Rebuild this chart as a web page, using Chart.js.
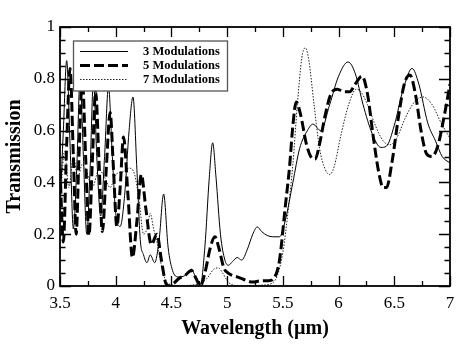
<!DOCTYPE html>
<html>
<head>
<meta charset="utf-8">
<script src="https://cdn.jsdelivr.net/npm/chart.js@4/dist/chart.umd.min.js"></script>
<style>
html,body{margin:0;padding:0;background:#fff;}
#wrap{width:474px;height:355px;}
</style>
</head>
<body>
<div id="wrap"><canvas id="c" width="474" height="355"></canvas></div>
<script>
// ---- Data ----
const seriesLabels = ["3 Modulations", "5 Modulations", "7 Modulations"];

const wl3 = [3.50,3.53,3.56,3.59,3.62,3.65,3.68,3.71,3.74,3.77,3.80,3.83,3.865,3.90,3.935,3.97,4.00,4.04,4.08,4.12,4.155,4.19,4.22,4.25,4.28,4.31,4.35,4.39,4.43,4.47,4.51,4.56,4.62,4.68,4.72,4.76,4.80,4.84,4.87,4.90,4.94,4.98,5.01,5.05,5.09,5.13,5.18,5.23,5.27,5.31,5.36,5.41,5.47,5.52,5.59,5.65,5.72,5.77,5.84,5.92,6.00,6.085,6.15,6.22,6.30,6.38,6.43,6.50,6.58,6.66,6.72,6.80,6.87,6.93,7.00];
const t3  = [0.30,0.60,0.87,0.55,0.22,0.45,0.80,0.50,0.20,0.45,0.79,0.50,0.27,0.50,0.77,0.50,0.28,0.23,0.35,0.60,0.73,0.45,0.18,0.12,0.09,0.12,0.09,0.18,0.355,0.15,0.06,0.035,0.04,0.065,0.03,0.005,0.15,0.42,0.553,0.42,0.20,0.10,0.08,0.095,0.11,0.10,0.14,0.20,0.228,0.21,0.195,0.19,0.19,0.25,0.40,0.53,0.60,0.625,0.60,0.70,0.81,0.865,0.82,0.70,0.59,0.535,0.54,0.62,0.76,0.84,0.78,0.63,0.56,0.50,0.475];

const wl5 = [3.50,3.53,3.56,3.59,3.62,3.645,3.67,3.70,3.73,3.76,3.79,3.82,3.85,3.88,3.915,3.95,3.98,4.01,4.04,4.07,4.11,4.15,4.19,4.23,4.27,4.32,4.37,4.41,4.45,4.48,4.52,4.57,4.62,4.68,4.72,4.76,4.80,4.85,4.89,4.93,4.97,5.01,5.05,5.09,5.15,5.23,5.30,5.37,5.42,5.47,5.52,5.56,5.59,5.62,5.66,5.71,5.75,5.79,5.83,5.88,5.93,5.99,6.05,6.10,6.15,6.21,6.26,6.31,6.36,6.40,6.43,6.48,6.54,6.59,6.64,6.69,6.74,6.79,6.84,6.89,6.95,7.00];
const t5  = [0.45,0.17,0.55,0.84,0.50,0.20,0.50,0.80,0.50,0.195,0.48,0.75,0.48,0.21,0.45,0.67,0.45,0.23,0.38,0.575,0.35,0.11,0.25,0.43,0.30,0.16,0.20,0.10,0.01,0.0,0.01,0.03,0.04,0.06,0.03,0.0,0.05,0.15,0.19,0.14,0.07,0.05,0.04,0.035,0.025,0.015,0.02,0.02,0.03,0.10,0.30,0.46,0.62,0.71,0.66,0.55,0.50,0.49,0.55,0.66,0.74,0.76,0.75,0.75,0.78,0.81,0.74,0.58,0.44,0.38,0.38,0.48,0.66,0.78,0.815,0.74,0.60,0.51,0.50,0.54,0.66,0.78];

const wl7 = [3.50,3.54,3.58,3.62,3.66,3.70,3.74,3.79,3.85,3.90,3.95,4.00,4.06,4.12,4.17,4.21,4.25,4.28,4.31,4.34,4.37,4.41,4.45,4.50,4.60,4.70,4.76,4.82,4.88,4.92,4.96,5.01,5.06,5.15,5.30,5.40,5.45,5.50,5.55,5.59,5.63,5.67,5.70,5.73,5.78,5.83,5.88,5.92,5.96,6.02,6.09,6.16,6.20,6.26,6.33,6.40,6.46,6.52,6.60,6.68,6.76,6.84,6.92,7.00];
const t7  = [0.30,0.52,0.38,0.50,0.42,0.47,0.44,0.38,0.45,0.42,0.38,0.43,0.44,0.455,0.43,0.33,0.20,0.22,0.28,0.22,0.17,0.08,0.02,0.005,0.0,0.005,0.01,0.03,0.065,0.07,0.05,0.015,0.003,0.0,0.003,0.01,0.04,0.13,0.30,0.47,0.70,0.88,0.92,0.88,0.70,0.53,0.45,0.43,0.46,0.58,0.70,0.76,0.75,0.70,0.62,0.56,0.545,0.57,0.65,0.71,0.73,0.70,0.63,0.57];

const xTickValues = [3.5,4,4.5,5,5.5,6,6.5,7];
const yTickValues = [0,0.2,0.4,0.6,0.8,1];

function pairs(xs, ys){ return xs.map((x,i)=>({x:x, y:ys[i]})); }

const SERIF = "'Liberation Serif','Times New Roman',serif";

// inward ticks on all four sides + frame
const frameTicks = {
  id:'frameTicks',
  afterDatasetsDraw(chart){
    const {ctx, chartArea:a, scales:{x,y}} = chart;
    ctx.save();
    ctx.strokeStyle = '#000';
    ctx.lineWidth = 1.3;
    ctx.beginPath();
    for (let v = 3.5; v <= 7.0001; v += 0.25){
      const major = Math.abs(v*2 - Math.round(v*2)) < 1e-6;
      const L = major ? 10 : 5;
      const px = Math.round(x.getPixelForValue(v)) + 0.5;
      ctx.moveTo(px, a.bottom); ctx.lineTo(px, a.bottom - L);
      ctx.moveTo(px, a.top); ctx.lineTo(px, a.top + L);
    }
    for (let i = 0; i <= 20; i++){
      const v = i*0.05;
      const major = i % 4 === 0;
      const L = major ? 11 : 5.5;
      const py = Math.round(y.getPixelForValue(v)) + 0.5;
      ctx.moveTo(a.left, py); ctx.lineTo(a.left + L, py);
      ctx.moveTo(a.right, py); ctx.lineTo(a.right - L, py);
    }
    ctx.stroke();
    ctx.lineWidth = 1.8;
    ctx.strokeRect(a.left, a.top, a.right - a.left, a.bottom - a.top);
    ctx.restore();
  }
};

// legend box inside the plot
const insetLegend = {
  id:'insetLegend',
  afterDatasetsDraw(chart){
    const ctx = chart.ctx;
    const bx = 73.5, by = 41, bw = 154, bh = 50;
    ctx.save();
    ctx.fillStyle = '#fff';
    ctx.fillRect(bx, by, bw, bh);
    ctx.strokeStyle = '#555';
    ctx.lineWidth = 1.3;
    ctx.strokeRect(bx, by, bw, bh);
    const rows = [51.5, 65.5, 79.5];
    chart.data.datasets.forEach((ds, i) => {
      ctx.save();
      ctx.strokeStyle = ds.borderColor;
      ctx.lineWidth = ds.borderWidth;
      ctx.setLineDash(ds.borderDash || []);
      ctx.beginPath();
      ctx.moveTo(80, rows[i]); ctx.lineTo(128, rows[i]);
      ctx.stroke();
      ctx.restore();
      ctx.fillStyle = '#000';
      ctx.font = "bold 12.5px " + SERIF;
      ctx.textAlign = 'left';
      ctx.textBaseline = 'middle';
      ctx.fillText(ds.label, 143, rows[i] + 0.5);
    });
    ctx.restore();
  }
};

const fmt = v => { const s = String(Math.round(v*10)/10); return s; };

new Chart(document.getElementById('c'), {
  type:'line',
  data:{
    datasets:[
      {label:seriesLabels[0], data:pairs(wl3,t3), borderColor:'#000', borderWidth:1, borderDash:[], pointRadius:0, fill:false, cubicInterpolationMode:'monotone'},
      {label:seriesLabels[1], data:pairs(wl5,t5), borderColor:'#000', borderWidth:3, borderDash:[10,4], pointRadius:0, fill:false, cubicInterpolationMode:'monotone'},
      {label:seriesLabels[2], data:pairs(wl7,t7), borderColor:'#222', borderWidth:1, borderDash:[1.5,1.5], pointRadius:0, fill:false, cubicInterpolationMode:'monotone'}
    ]
  },
  options:{
    responsive:false,
    devicePixelRatio:1,
    animation:false,
    layout:{padding:{top:27, right:24, left:0, bottom:0}},
    plugins:{legend:{display:false}, tooltip:{enabled:false}},
    scales:{
      x:{
        type:'linear', min:3.5, max:7,
        afterBuildTicks(s){ s.ticks = xTickValues.map(v=>({value:v})); },
        afterFit(s){ s.height = 69; },
        grid:{display:false, drawTicks:false},
        border:{display:false},
        ticks:{padding:7, color:'#000', font:{family:SERIF, size:17}, callback:v=>fmt(v), maxRotation:0, autoSkip:false},
        title:{display:true, text:'Wavelength (µm)', color:'#000', font:{family:SERIF, size:20, weight:'bold'}, padding:{top:0, bottom:14}}
      },
      y:{
        type:'linear', min:0, max:1,
        afterBuildTicks(s){ s.ticks = yTickValues.map(v=>({value:v})); },
        afterFit(s){ s.width = 60; },
        grid:{display:false, drawTicks:false},
        border:{display:false},
        ticks:{padding:5, color:'#000', font:{family:SERIF, size:17}, callback:v=>fmt(v), autoSkip:false},
        title:{display:true, text:'Transmission', color:'#000', font:{family:SERIF, size:20, weight:'bold'}, padding:{top:3, bottom:0}}
      }
    }
  },
  plugins:[frameTicks, insetLegend]
});
</script>
</body>
</html>
